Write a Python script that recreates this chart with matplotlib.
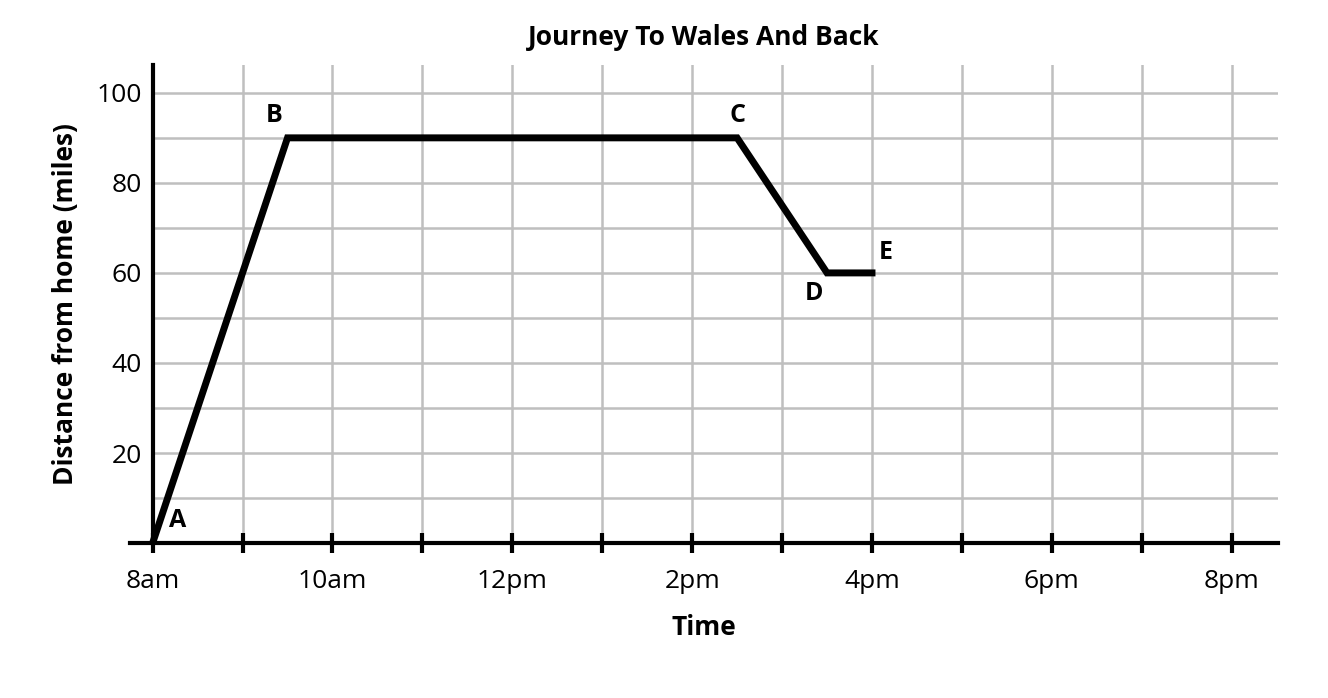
import matplotlib
matplotlib.use("Agg")
import matplotlib.pyplot as plt

times = [8, 9.5, 14.5, 15.5, 16]
dist = [0, 90, 90, 60, 60]
labels = ["A", "B", "C", "D", "E"]
label_off = [(0.28, 5), (-0.15, 5), (0.0, 5), (-0.15, -4.5), (0.15, 4.5)]
xticks = [8, 10, 12, 14, 16, 18, 20]
xticklabels = ["8am", "10am", "12pm", "2pm", "4pm", "6pm", "8pm"]
yticks = [20, 40, 60, 80, 100]

plt.rcParams['font.family'] = ['Open Sans', 'DejaVu Sans']
fig = plt.figure(figsize=(13.28, 6.98), dpi=100)
ax = fig.add_axes([0.098, 0.222, 0.864, 0.685])
ax.set_xlim(7.75, 20.51)
ax.set_ylim(0, 106.2)
for h in range(9, 21):
    ax.axvline(h, color="#bfbfbf", lw=1.8, zorder=1)
for v in range(10, 101, 10):
    ax.plot([8, 20.51], [v, v], color="#bfbfbf", lw=1.8, zorder=1)
ax.plot(times, dist, color="black", lw=5, solid_joinstyle="miter", zorder=3)
for (t, d, l, (dx, dy)) in zip(times, dist, labels, label_off):
    ax.text(t + dx, d + dy, l, fontsize=18, fontweight="bold", ha="center", va="center")
ax.spines['left'].set_position(('data', 8))
ax.spines['left'].set_linewidth(3)
ax.spines['bottom'].set_linewidth(3)
ax.spines['top'].set_visible(False)
ax.spines['right'].set_visible(False)
ax.set_xticks(range(8, 21))
ax.set_xticklabels([xticklabels[xticks.index(h)] if h in xticks else "" for h in range(8, 21)], fontsize=19)
ax.tick_params(axis='x', direction='inout', length=14, width=3, pad=12)
ax.set_yticks(yticks)
ax.set_yticklabels([str(v) for v in yticks], fontsize=19)
ax.tick_params(axis='y', length=0, pad=8)
ax.set_xlabel("Time", fontsize=19, fontweight="bold", labelpad=14)
ax.set_ylabel("Distance from home (miles)", fontsize=19, fontweight="bold", labelpad=12)
ax.set_title("Journey To Wales And Back", fontsize=19, fontweight="bold", pad=14)
fig.savefig("out.png", dpi=100)
